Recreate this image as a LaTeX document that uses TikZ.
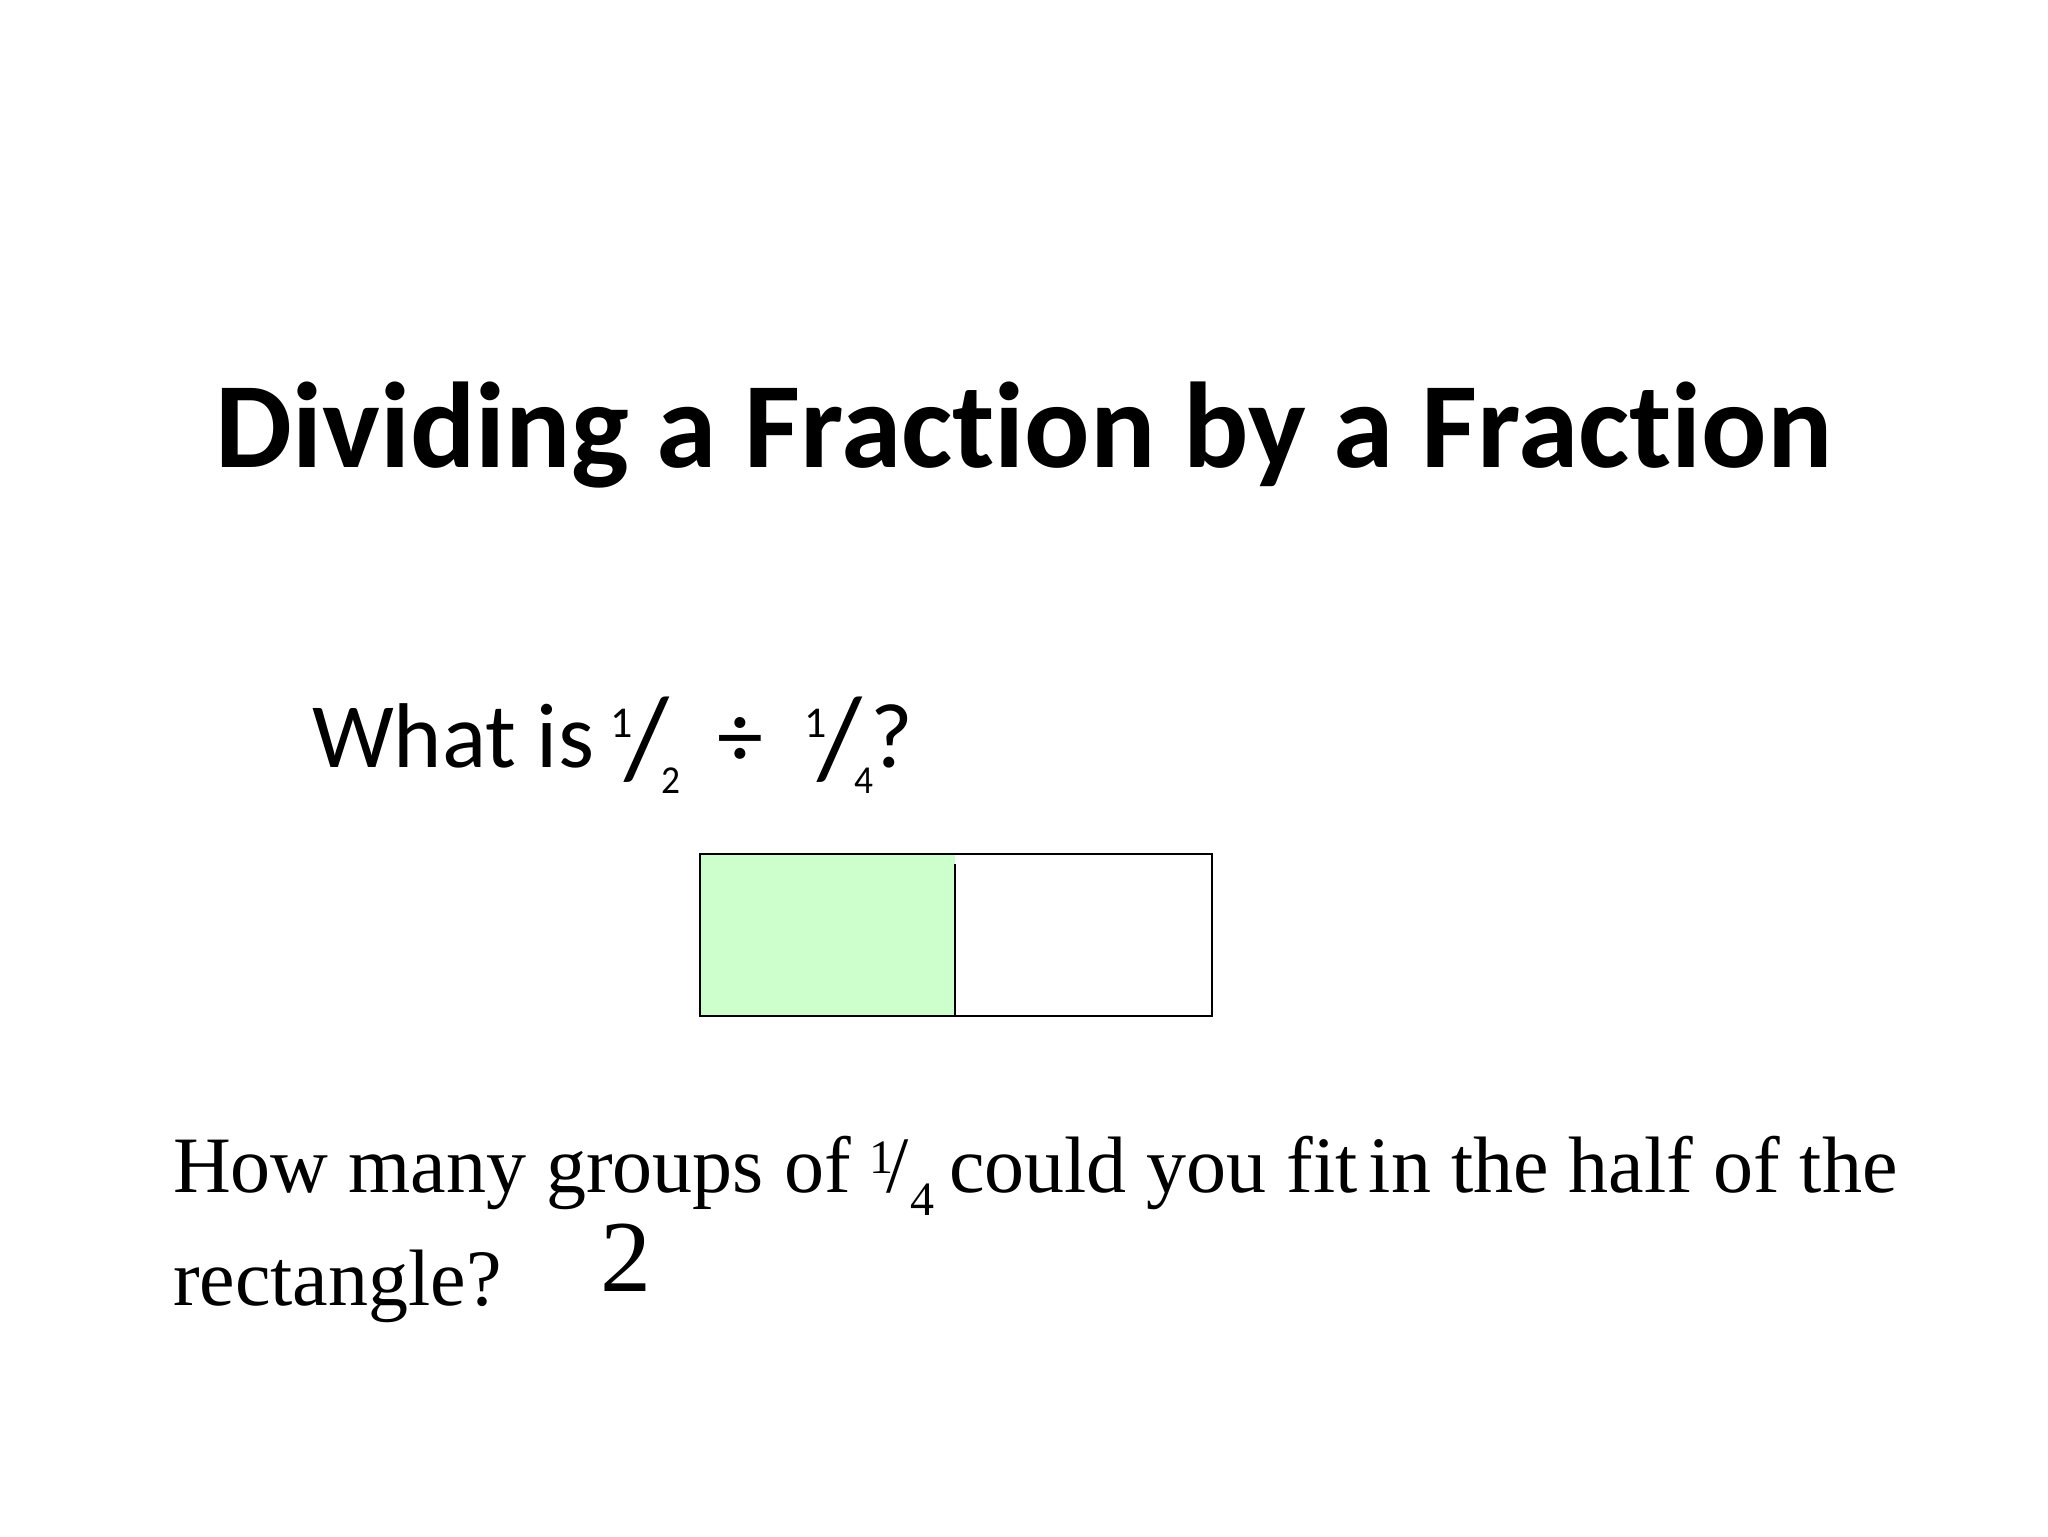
\documentclass[tikz,border=0pt]{standalone}
\usepackage{fontspec}
\setmainfont{Liberation Serif}
\newfontfamily\calibri[Ligatures={NoCommon}]{Carlito}
\definecolor{halfgreen}{HTML}{CCFFCC}
\begin{document}
\begin{tikzpicture}[x=0.5pt,y=-0.5pt,
  every node/.style={inner sep=0pt,outer sep=0pt},
  titletext/.style={font=\calibri\bfseries\fontsize{61}{72}\selectfont, anchor=base},
  qtext/.style={font=\calibri\fontsize{46}{55}\selectfont, anchor=base west},
  qslash/.style={font=\calibri\fontsize{58}{66}\selectfont, anchor=base west},
  qsmall/.style={font=\calibri\fontsize{22}{26}\selectfont, anchor=base west},
  btext/.style={font=\fontsize{40}{48}\selectfont, anchor=base west},
  bsmall/.style={font=\fontsize{24}{28}\selectfont, anchor=base west},
  bigtext/.style={font=\fontsize{51}{60}\selectfont, anchor=base west},
  barline/.style={draw=black, line width=0.8pt}]
\fill[white] (0,0) rectangle (2048,1536);
\useasboundingbox (0,0) rectangle (2048,1536);
% title
\node[titletext] (title) at (1024,467) {Dividing a Fraction by a Fraction};
% question line
\node[qtext] (what) at (312,767) {What is};
\node[qsmall] (n1) at (610,737) {1};
\node[qslash] (s1) at (624,777) {/};
\node[qsmall] (d1) at (661,793) {\scalebox{0.85}[0.9]{2}};
\node[qtext] (div) at (717,767) {÷};
\node[qsmall] (n2) at (804,737) {1};
\node[qslash] (s2) at (817,777) {/};
\node[qsmall] (d2) at (854,793) {\scalebox{0.85}[0.9]{4}};
\node[qtext] (qm) at (870,767) {?};
% rectangle
\fill[halfgreen] (700,854) rectangle (955,1016);
\draw[barline] (700,854) rectangle (1212,1016);
\draw[barline] (955,864) -- (955,1016);
% bottom text
\node[btext] (how) at (173,1192) {How many groups of};
\node[bsmall] (bn) at (869,1173) {1};
\node[btext] (bs) at (886,1192) {/};
\node[bsmall] (bd) at (910,1215) {4};
\node[btext] (could) at (949,1192) {could you fit \hspace{-4.5pt}in the half of the};
\node[btext] (rect) at (173,1305) {rectangle?};
\node[bigtext] (two) at (600,1291) {2};
\end{tikzpicture}
\end{document}
